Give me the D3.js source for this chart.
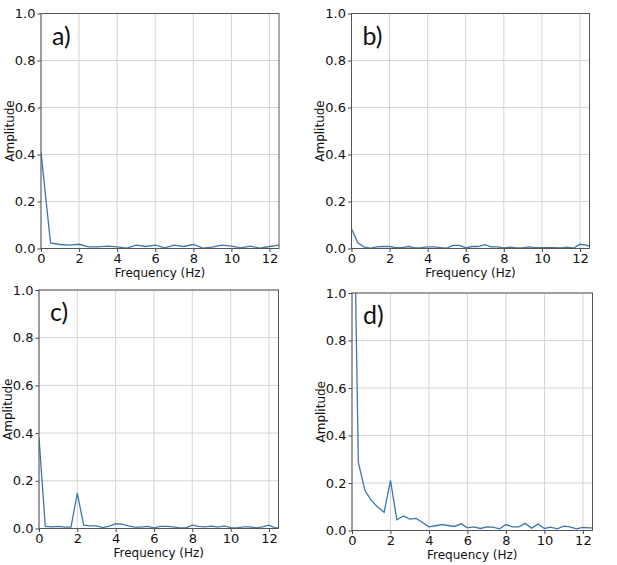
<!DOCTYPE html>
<html>
<head>
<meta charset="utf-8">
<script src="https://cdn.jsdelivr.net/npm/d3@7"></script>
<style>
  body { margin: 0; background: #fff; }
  text { font-family: "DejaVu Sans", sans-serif; fill: #111; }
</style>
</head>
<body>
<svg id="chart" width="617" height="565"></svg>
<script>
// panel a is sampled every 0.5 Hz, b/c/d every 1/3 Hz
var freqA = [0, 0.5, 1, 1.5, 2, 2.5, 3, 3.5, 4, 4.5, 5, 5.5, 6, 6.5, 7, 7.5, 8, 8.5, 9, 9.5, 10, 10.5, 11, 11.5, 12, 12.5];
var ampA = [0.41, 0.024, 0.017, 0.014, 0.018, 0.007, 0.007, 0.01, 0.007, 0.0015, 0.014, 0.0085, 0.014, 0.003,
            0.014, 0.0085, 0.017, 0.0015, 0.006, 0.014, 0.01, 0.003, 0.01, 0.0015, 0.0085, 0.014];

var freqThird = [0, 0.33, 0.67, 1, 1.33, 1.67, 2, 2.33, 2.67, 3, 3.33, 3.67, 4, 4.33, 4.67, 5, 5.33, 5.67, 6,
                 6.33, 6.67, 7, 7.33, 7.67, 8, 8.33, 8.67, 9, 9.33, 9.67, 10, 10.33, 10.67, 11, 11.33, 11.67, 12, 12.33, 12.67];
var ampB = [0.084, 0.024, 0.006, 0.0015, 0.007, 0.0085, 0.0085, 0.004, 0.004, 0.0085, 0.003, 0.004, 0.007,
            0.007, 0.004, 0.0015, 0.013, 0.013, 0.003, 0.0085, 0.0085, 0.016, 0.007, 0.007, 0.003, 0.006, 0.003,
            0.003, 0.007, 0.004, 0.004, 0.004, 0.004, 0.003, 0.006, 0.0015, 0.018, 0.014, 0.006];
var ampC = [0.38, 0.0085, 0.007, 0.0085, 0.006, 0.006, 0.148, 0.014, 0.011, 0.011, 0.004, 0.01, 0.02, 0.018,
            0.011, 0.006, 0.006, 0.0085, 0.003, 0.0085, 0.0085, 0.007, 0.003, 0.003, 0.014, 0.0085, 0.007, 0.01,
            0.006, 0.011, 0.004, 0.003, 0.007, 0.007, 0.003, 0.007, 0.014, 0.003, 0.003];
var ampD = [1.95, 0.287, 0.169, 0.127, 0.099, 0.077, 0.211, 0.045, 0.061, 0.048, 0.051, 0.034, 0.0155, 0.02,
            0.025, 0.021, 0.017, 0.028, 0.011, 0.0155, 0.0085, 0.0155, 0.014, 0.007, 0.025, 0.0155, 0.0155, 0.03,
            0.01, 0.027, 0.0085, 0.014, 0.007, 0.018, 0.0155, 0.007, 0.0127, 0.011, 0.011];

var xTicks = [0, 2, 4, 6, 8, 10, 12];
var yTicks = [0, 0.2, 0.4, 0.6, 0.8, 1.0];
var panelLabels = ["a)", "b)", "c)", "d)"];

var panels = [
    { label: panelLabels[0], freq: freqA, amp: ampA, left: 41, right: 279, top: 13.5, bottom: 248.5 },
    { label: panelLabels[1], freq: freqThird, amp: ampB, left: 351.5, right: 589.5, top: 13.5, bottom: 248.5 },
    { label: panelLabels[2], freq: freqThird, amp: ampC, left: 39, right: 278.5, top: 290, bottom: 528.5 },
    { label: panelLabels[3], freq: freqThird, amp: ampD, left: 352, right: 592.5, top: 293, bottom: 530.5 }
];

var svg = d3.select("#chart");

panels.forEach(function (p, i) {
    var x = d3.scaleLinear().domain([0, 12.5]).range([p.left, p.right]),
        y = d3.scaleLinear().domain([0, 1]).range([p.bottom, p.top]);

    var g = svg.append("g").attr("class", "panel");

    // grid
    g.append("g").selectAll("line.vg")
        .data(xTicks).enter().append("line")
        .attr("x1", function (d) { return x(d); }).attr("x2", function (d) { return x(d); })
        .attr("y1", p.top).attr("y2", p.bottom)
        .attr("stroke", "#d4d4d4").attr("stroke-width", 1);
    g.append("g").selectAll("line.hg")
        .data(yTicks).enter().append("line")
        .attr("y1", function (d) { return y(d); }).attr("y2", function (d) { return y(d); })
        .attr("x1", p.left).attr("x2", p.right)
        .attr("stroke", "#d4d4d4").attr("stroke-width", 1);

    // clip so the big first value of d) gets cut at 1.0
    g.append("clipPath").attr("id", "clip" + i)
        .append("rect")
        .attr("x", p.left).attr("y", p.top)
        .attr("width", p.right - p.left).attr("height", p.bottom - p.top);

    var pts = p.freq.map(function (f, k) { return [f, p.amp[k]]; });
    var line = d3.line()
        .x(function (d) { return x(d[0]); })
        .y(function (d) { return y(d[1]); });

    g.append("path")
        .datum(pts)
        .attr("clip-path", "url(#clip" + i + ")")
        .attr("fill", "none")
        .attr("stroke", "#3b76b6")
        .attr("stroke-width", 1.3)
        .attr("d", line);

    // axes
    var xAxis = g.append("g")
        .attr("transform", "translate(0," + p.bottom + ")")
        .call(d3.axisBottom(x).tickValues(xTicks).tickSize(3.5).tickPadding(2).tickFormat(d3.format("d")));
    var yAxis = g.append("g")
        .attr("transform", "translate(" + p.left + ",0)")
        .call(d3.axisLeft(y).tickValues(yTicks).tickSize(3.5).tickPadding(2).tickFormat(d3.format(".1f")));
    [xAxis, yAxis].forEach(function (a) {
        a.select(".domain").remove();
        a.selectAll(".tick line").attr("stroke", "#444");
        a.selectAll(".tick text").style("font-size", "13px").attr("fill", "#111");
    });

    // frame
    g.append("rect")
        .attr("x", p.left).attr("y", p.top)
        .attr("width", p.right - p.left).attr("height", p.bottom - p.top)
        .attr("fill", "none").attr("stroke", "#555").attr("stroke-width", 1);

    g.append("text")
        .attr("x", (p.left + p.right) / 2)
        .attr("y", p.bottom + 28)
        .attr("text-anchor", "middle")
        .style("font-size", "12px")
        .text("Frequency (Hz)");

    g.append("text")
        .attr("transform", "translate(" + (p.left - 27.5) + "," + ((p.top + p.bottom) / 2) + ") rotate(-90)")
        .attr("text-anchor", "middle")
        .style("font-size", "12px")
        .text("Amplitude");

    g.append("text")
        .attr("x", p.left + 11)
        .attr("y", p.top + 31)
        .style("font-family", "Lato, sans-serif")
        .style("font-size", "25px")
        .text(p.label);
});
</script>
</body>
</html>
